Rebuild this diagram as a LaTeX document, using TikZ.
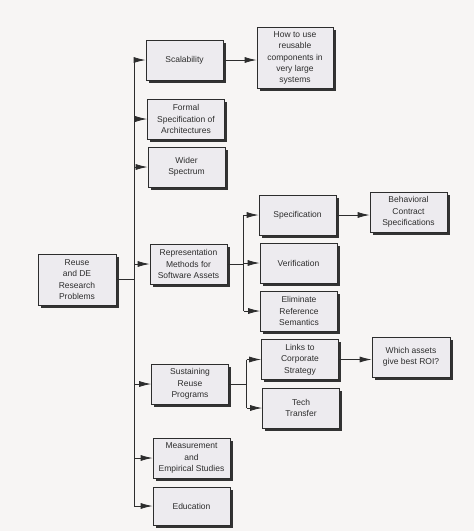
\documentclass[tikz,border=0pt]{standalone}
\usepackage{fontspec}
\setmainfont{Liberation Sans}
\usetikzlibrary{arrows.meta,shadows}
\definecolor{paper}{RGB}{247,245,244}
\definecolor{boxfill}{RGB}{237,235,239}
\definecolor{ink}{RGB}{45,45,45}
\tikzset{
  box/.style={draw=ink, line width=0.7pt, fill=boxfill, align=center,
    minimum width=77pt, minimum height=40pt, inner sep=1pt, text=ink,
    font=\fontsize{8.5}{11.3}\selectfont,
    drop shadow={shadow xshift=2.8pt, shadow yshift=-2.8pt, fill=black!80, opacity=1}},
  conn/.style={draw=ink, line width=0.8pt},
  arr/.style={conn, -{Latex[length=12pt,width=6pt]}}
}
\begin{document}
\begin{tikzpicture}[x=1pt,y=-1pt]
\fill[paper] (0,0) rectangle (474,531);
\useasboundingbox (0,0) rectangle (474,531);

\node[box] (scal) at (184.5,60) {Scalability};
\node[box, minimum width=76pt, minimum height=61pt] (howto) at (295,58) {How to use\\reusable\\components in\\very large\\systems};
\node[box] (formal) at (186,119) {Formal\\Specification of\\Architectures};
\node[box] (wider) at (186.5,167) {Wider\\Spectrum};
\node[box] (repr) at (188.5,264) {Representation\\Methods for\\Software Assets};
\node[box, minimum width=78pt, minimum height=51pt] (root) at (77,279.5) {Reuse\\and DE\\Research\\Problems};
\node[box] (spec) at (297.5,215) {Specification};
\node[box] (behav) at (408.5,212) {Behavioral\\Contract\\Specifications};
\node[box] (verif) at (298.5,263) {Verification};
\node[box] (elim) at (299,311) {Eliminate\\Reference\\Semantics};
\node[box] (sust) at (190,384) {Sustaining\\Reuse\\Programs};
\node[box] (links) at (300,359.5) {Links to\\Corporate\\Strategy};
\node[box, minimum width=78pt] (which) at (411,357) {Which assets\\give best ROI?};
\node[box] (tech) at (301,408) {Tech\\Transfer};
\node[box] (meas) at (191.5,458) {Measurement\\and\\Empirical Studies};
\node[box, minimum height=38pt] (edu) at (191.5,506) {Education};

% trunk
\coordinate (trunk) at (134,0);
\draw[conn] (scal.west -| trunk) -- (edu.west -| trunk);
\draw[conn] (root.east) -- (root.east -| trunk);
\foreach \n in {scal,formal,wider,repr,sust,meas,edu}
  \draw[arr] (\n.west -| trunk) -- (\n.west);

% representation branch
\coordinate (rb) at (243.5,0);
\draw[conn] (repr.east) -- (repr.east -| rb);
\draw[conn] (spec.west -| rb) -- (elim.west -| rb);
\foreach \n in {spec,verif,elim}
  \draw[arr] (\n.west -| rb) -- (\n.west);

% sustaining branch
\coordinate (sb) at (246.5,0);
\draw[conn] (sust.east) -- (sust.east -| sb);
\draw[conn] (links.west -| sb) -- (tech.west -| sb);
\foreach \n in {links,tech}
  \draw[arr] (\n.west -| sb) -- (\n.west);

% direct arrows
\draw[arr] (scal.east) -- (scal.east -| howto.west);
\draw[arr] (spec.east) -- (spec.east -| behav.west);
\draw[arr] (links.east) -- (links.east -| which.west);
\end{tikzpicture}
\end{document}
